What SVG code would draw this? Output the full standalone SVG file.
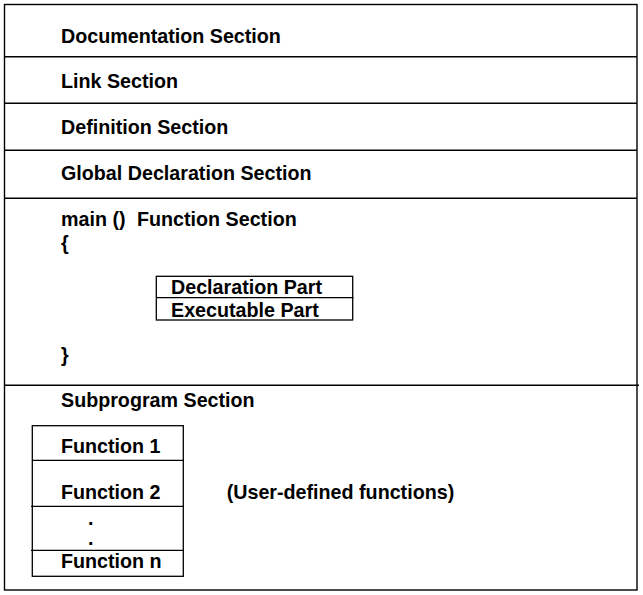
<svg xmlns="http://www.w3.org/2000/svg" width="643" height="595" viewBox="0 0 643 595">
<style>
text{font-family:"Liberation Sans",Arial,sans-serif;font-weight:bold;font-size:19.7px;fill:#000}
.ln{stroke:#000;stroke-width:1.4;fill:none}
.bx{stroke:#000;stroke-width:1.3;fill:none}
</style>
<rect x="0" y="0" width="643" height="595" fill="#fff"/>
<g id="frame">
<rect class="ln" x="4.5" y="4.5" width="632.5" height="585.5"/>
</g>
<g id="connectors">
<line class="ln" x1="4.5" y1="56.7" x2="637" y2="56.7"/>
<line class="ln" x1="4.5" y1="103.3" x2="637" y2="103.3"/>
<line class="ln" x1="4.5" y1="150.3" x2="637" y2="150.3"/>
<line class="ln" x1="4.5" y1="198.2" x2="637" y2="198.2"/>
<line class="ln" x1="4.5" y1="385.3" x2="639" y2="385.3"/>
</g>
<g id="documentation"><text x="61" y="42.7">Documentation Section</text></g>
<g id="link"><text x="61" y="88.3">Link Section</text></g>
<g id="definition"><text x="61" y="133.5">Definition Section</text></g>
<g id="global"><text x="61" y="179.5">Global Declaration Section</text></g>
<g id="main">
<text x="61" y="225.7">main ()<tspan x="137">Function Section</tspan></text>
<text x="61" y="250">{</text>
<text x="61" y="362">}</text>
</g>
<g id="mainparts">
<rect class="bx" x="156.3" y="276.3" width="196.4" height="43.7"/>
<line class="bx" x1="156.3" y1="297.7" x2="353.5" y2="297.7"/>
<text x="171" y="294">Declaration Part</text>
<text x="171" y="316.5">Executable Part</text>
</g>
<g id="subprogram"><text x="61" y="407.3">Subprogram Section</text></g>
<g id="functions">
<rect class="bx" x="32.3" y="425.7" width="151" height="150.6"/>
<line class="bx" x1="32.3" y1="460.3" x2="183.3" y2="460.3"/>
<line class="bx" x1="31" y1="506.3" x2="183.3" y2="506.3"/>
<line class="bx" x1="31" y1="550.3" x2="183.3" y2="550.3"/>
<text x="61" y="453.3">Function 1</text>
<text x="61" y="499.3">Function 2</text>
<text x="88" y="524.7">.</text>
<text x="88" y="545.3">.</text>
<text x="61" y="567.9">Function n</text>
</g>
<g id="userdefined"><text x="226.7" y="499.3">(User-defined functions)</text></g>
</svg>
